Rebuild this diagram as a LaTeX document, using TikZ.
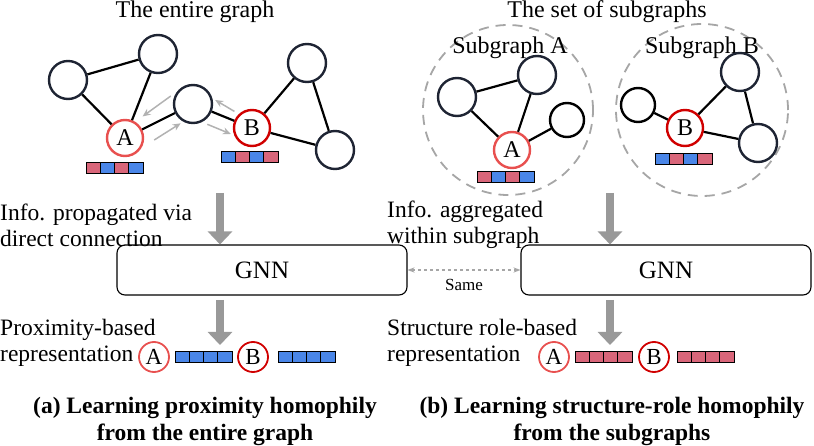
\documentclass[tikz,border=0pt]{standalone}
\usepackage{fontspec}
\setmainfont{Liberation Serif}
\usetikzlibrary{arrows.meta}
\definecolor{ndark}{HTML}{1E2433}
\definecolor{redA}{HTML}{E8504F}
\definecolor{redB}{HTML}{D00000}
\definecolor{cpink}{HTML}{D9667A}
\definecolor{cblue}{HTML}{4A86E8}
\tikzstyle{vtx} = [circle, draw=ndark, line width=2.4pt, minimum size=38pt, inner sep=0pt]
\tikzstyle{vtxA} = [circle, draw=redA, line width=2.4pt, minimum size=36pt, inner sep=0pt, font=\fontsize{24}{24}\selectfont]
\tikzstyle{vtxB} = [vtxA, draw=redB]
\tikzstyle{edge} = [line width=2.2pt, black]
\tikzstyle{flow} = [draw=gray!60, line width=1.5pt, -{Stealth[length=8pt,width=7pt]}]
\tikzstyle{big} = [draw=gray!80, line width=8pt, -{Triangle[length=13pt,width=24pt]}]
\tikzstyle{gnn} = [rectangle, rounded corners=8pt, draw=black, line width=1.1pt, minimum width=290pt, minimum height=50pt, font=\fontsize{25}{25}\selectfont]
\tikzstyle{txt} = [font=\fontsize{23.5}{26}\selectfont, align=left, anchor=west, inner sep=0pt]
\tikzstyle{ttl} = [font=\fontsize{24}{26}\selectfont, inner sep=0pt]
\tikzstyle{cell} = [rectangle, draw=black, line width=1pt, minimum width=14.3pt, minimum height=11pt, inner sep=0pt]
\tikzstyle{outA} = [circle, draw=redA, line width=1.8pt, minimum width=28pt, minimum height=30pt, inner sep=0pt, font=\fontsize{23}{23}\selectfont]
\tikzstyle{outB} = [outA, draw=redB]
\newcommand{\featbar}[4]{% x,y,colours,name
  \foreach \c [count=\i] in {#3} {
    \node[cell, fill=\c] (#4\i) at (#1+\i*14.3-7.15, #2) {};
  }
}
\begin{document}
\begin{tikzpicture}[x=1pt,y=-1pt]
    \useasboundingbox (0,0) rectangle (814,446);
    % left: the entire graph
    \node[ttl] (t1) at (195,12) {The entire graph};
    \node[vtx] (l1) at (68,80) {};
    \node[vtx] (l2) at (158,54) {};
    \node[vtxA] (la) at (125,138) {A};
    \node[vtx] (l3) at (193,104) {};
    \node[vtxB] (lb) at (252,128) {B};
    \node[vtx] (l4) at (307,63) {};
    \node[vtx] (l5) at (335,150) {};
    \draw[edge] (l1) -- (l2);
    \draw[edge] (l1) -- (la);
    \draw[edge] (l2) -- (la);
    \draw[edge] (la) -- (l3);
    \draw[edge] (l3) -- (lb);
    \draw[edge] (lb) -- (l4);
    \draw[edge] (lb) -- (l5);
    \draw[edge] (l4) -- (l5);
    \draw[flow] ([shift={(-2,-8)}]l3.west) -- ([shift={(4,-8)}]la.north east);
    \draw[flow] ([shift={(10,2)}]la.east) -- ([shift={(2,5)}]l3.south west);
    \draw[flow] ([shift={(-4,-3)}]lb.north west) -- ([shift={(2,-4)}]l3.east);
    \draw[flow] ([shift={(0,6)}]l3.south east) -- ([shift={(-2,6)}]lb.west);
    \featbar{86}{168}{cpink,cblue,cpink,cblue}{fa}
    \featbar{221}{157}{cblue,cpink,cblue,cpink}{fb}
    % right: the set of subgraphs
    \node[ttl] (t2) at (607,12) {The set of subgraphs};
    \node[circle, draw=gray!70, dash pattern=on 10pt off 7pt, line width=1.8pt, minimum size=170pt] (sa) at (508,110) {};
    \node[circle, draw=gray!70, dash pattern=on 10pt off 7pt, line width=1.8pt, minimum size=172pt] (sb) at (702,110) {};
    \node[ttl] (sat) at (510,48) {Subgraph A};
    \node[ttl] (sbt) at (702,48) {Subgraph B};
    \node[vtx] (a1) at (457,97) {};
    \node[vtx] (a2) at (537,75) {};
    \node[vtx, draw=black, minimum size=34pt] (a3) at (567,120) {};
    \node[vtxA] (aa) at (512,150) {A};
    \draw[edge] (a1) -- (a2);
    \draw[edge] (a1) -- (aa);
    \draw[edge] (a2) -- (aa);
    \draw[edge] (aa) -- (a3);
    \node[vtx, draw=black, minimum size=34pt] (b1) at (638,105) {};
    \node[vtx] (b2) at (740,72) {};
    \node[vtx] (b3) at (758,143) {};
    \node[vtxB] (bb) at (685,128) {B};
    \draw[edge] (b1) -- (bb);
    \draw[edge] (bb) -- (b2);
    \draw[edge] (bb) -- (b3);
    \draw[edge] (b2) -- (b3);
    \featbar{477}{177}{cpink,cblue,cpink,cblue}{ga}
    \featbar{655}{159}{cblue,cpink,cblue,cpink}{gb}
    % GNN stage
    \node[gnn] (gl) at (262,270) {GNN};
    \node[gnn] (gr) at (666,270) {GNN};
    \draw[gray!70, dashed, line width=1.2pt, {Stealth[length=7pt]}-{Stealth[length=7pt]}] (gl) -- node[below=5pt, font=\fontsize{17}{17}\selectfont, text=black] {Same} (gr);
    \coordinate (ul) at (220,193);
    \coordinate (ur) at (610,193);
    \coordinate (ml) at (220,300);
    \coordinate (mr) at (610,300);
    \draw[big] (ul) -- (gl.north -| ul);
    \draw[big] (ur) -- (gr.north -| ur);
    \draw[big] (ml) -- ++(0,45);
    \draw[big] (mr) -- ++(0,45);
    \node[txt] (il) at (0,225) {Info. propagated via\\direct connection};
    \node[txt] (ir) at (387,225) {Info. aggregated\\within subgraph};
    \node[txt] (pl) at (0,343) {Proximity-based\\representation};
    \node[txt] (pr) at (387,343) {Structure role-based\\representation};
    % outputs
    \node[outA] (oa1) at (154,357) {A};
    \node[outB] (ob1) at (253,357) {B};
    \node[outA] (oa2) at (554,357) {A};
    \node[outB] (ob2) at (654,357) {B};
    \featbar{175}{357}{cblue,cblue,cblue,cblue}{pa}
    \featbar{278}{357}{cblue,cblue,cblue,cblue}{pb}
    \featbar{575}{357}{cpink,cpink,cpink,cpink}{qa}
    \featbar{677}{357}{cpink,cpink,cpink,cpink}{qb}
    % captions
    \node[ttl, font=\fontsize{23.5}{27}\selectfont\bfseries, align=center] (ca) at (205,421) {(a) Learning proximity homophily\\from the entire graph};
    \node[ttl, font=\fontsize{23.5}{27}\selectfont\bfseries, align=center] (cb) at (612,421) {(b) Learning structure-role homophily\\from the subgraphs};
\end{tikzpicture}
\end{document}
